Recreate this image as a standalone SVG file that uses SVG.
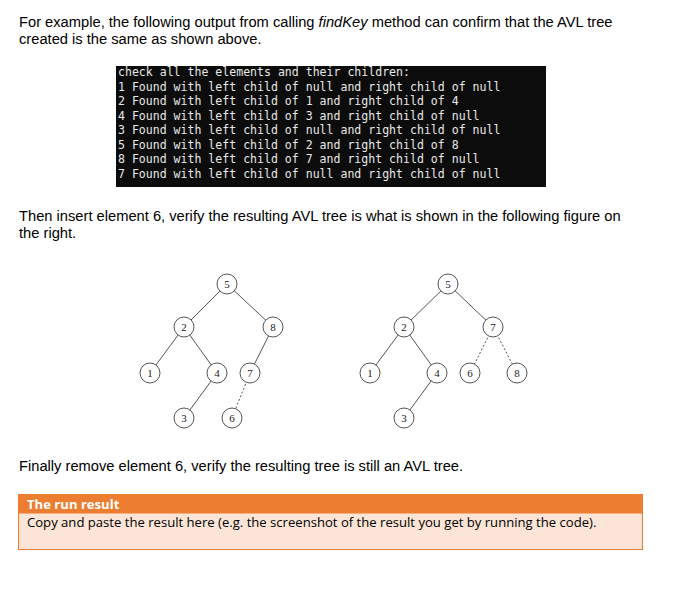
<svg xmlns="http://www.w3.org/2000/svg" width="679" height="605" viewBox="0 0 679 605">
<style>
.t{font-family:"Liberation Sans",Arial,sans-serif;font-size:14.7px;fill:#000}
.m{font-family:"DejaVu Sans Mono",monospace;font-size:11.55px;fill:#e8e8e8}
.n circle{fill:#fff;stroke:#555;stroke-width:1}
.n text{font-family:"Liberation Serif",serif;font-size:11px;text-anchor:middle;fill:#222}
.e line{stroke:#555;stroke-width:1}
.d{stroke-dasharray:2,2}
.c{font-family:"Open Sans",sans-serif;font-size:13.1px}
</style>
<rect width="679" height="605" fill="#fff"/>
<text class="t" x="19" y="27">For example, the following output from calling <tspan font-style="italic">findKey</tspan> method can confirm that the AVL tree</text>
<text class="t" x="19" y="44">created is the same as shown above.</text>
<rect x="116" y="66" width="430" height="121" fill="#0c0c0c"/>
<g class="m">
<text x="118" y="76">check all the elements and their children:</text>
<text x="118" y="91">1 Found with left child of null and right child of null</text>
<text x="118" y="105">2 Found with left child of 1 and right child of 4</text>
<text x="118" y="120">4 Found with left child of 3 and right child of null</text>
<text x="118" y="134">3 Found with left child of null and right child of null</text>
<text x="118" y="149">5 Found with left child of 2 and right child of 8</text>
<text x="118" y="163">8 Found with left child of 7 and right child of null</text>
<text x="118" y="178">7 Found with left child of null and right child of null</text>
</g>
<text class="t" x="19" y="221">Then insert element 6, verify the resulting AVL tree is what is shown in the following figure on</text>
<text class="t" x="19" y="238">the right.</text>
<g class="e" id="connectors">
<line x1="227" y1="284" x2="184" y2="327"/><line x1="227" y1="284" x2="273" y2="327"/>
<line x1="184" y1="327" x2="150" y2="373"/><line x1="184" y1="327" x2="217" y2="373"/>
<line x1="273" y1="327" x2="250" y2="373"/><line x1="217" y1="373" x2="184" y2="418"/>
<line class="d" x1="250" y1="373" x2="232" y2="418"/>
<line x1="448" y1="284" x2="404" y2="327"/><line x1="448" y1="284" x2="493" y2="327"/>
<line x1="404" y1="327" x2="370" y2="373"/><line x1="404" y1="327" x2="437" y2="373"/>
<line x1="437" y1="373" x2="404" y2="418"/>
<line class="d" x1="493" y1="327" x2="470" y2="373"/><line class="d" x1="493" y1="327" x2="517" y2="373"/>
</g>
<g class="n">
<g id="L5"><circle cx="227" cy="284" r="10"/><text x="227" y="288">5</text></g>
<g id="L2"><circle cx="184" cy="327" r="10"/><text x="184" y="331">2</text></g>
<g id="L8"><circle cx="273" cy="327" r="10"/><text x="273" y="331">8</text></g>
<g id="L1"><circle cx="150" cy="373" r="10"/><text x="150" y="377">1</text></g>
<g id="L4"><circle cx="217" cy="373" r="10"/><text x="217" y="377">4</text></g>
<g id="L7"><circle cx="250" cy="373" r="10"/><text x="250" y="377">7</text></g>
<g id="L3"><circle cx="184" cy="418" r="10"/><text x="184" y="422">3</text></g>
<g id="L6"><circle cx="232" cy="418" r="10"/><text x="232" y="422">6</text></g>
<g id="R5"><circle cx="448" cy="284" r="10"/><text x="448" y="288">5</text></g>
<g id="R2"><circle cx="404" cy="327" r="10"/><text x="404" y="331">2</text></g>
<g id="R7"><circle cx="493" cy="327" r="10"/><text x="493" y="331">7</text></g>
<g id="R1"><circle cx="370" cy="373" r="10"/><text x="370" y="377">1</text></g>
<g id="R4"><circle cx="437" cy="373" r="10"/><text x="437" y="377">4</text></g>
<g id="R6"><circle cx="470" cy="373" r="10"/><text x="470" y="377">6</text></g>
<g id="R8"><circle cx="517" cy="373" r="10"/><text x="517" y="377">8</text></g>
<g id="R3"><circle cx="404" cy="418" r="10"/><text x="404" y="422">3</text></g>
</g>
<text class="t" x="19" y="471">Finally remove element 6, verify the resulting tree is still an AVL tree.</text>
<rect x="18.5" y="494.5" width="624" height="55" fill="#fce4d6" stroke="#ed7d31"/>
<rect x="18.5" y="494.5" width="624" height="19" fill="#ed7d31"/>
<text class="c" x="27" y="509" fill="#fff" font-weight="bold">The run result</text>
<text class="c" x="27" y="527" fill="#000">Copy and paste the result here (e.g. the screenshot of the result you get by running the code).</text>
</svg>
